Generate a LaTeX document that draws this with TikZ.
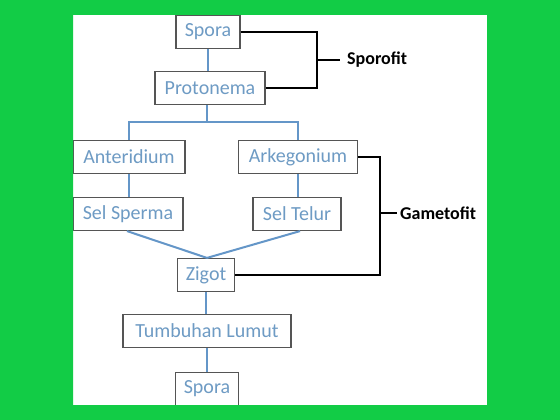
\documentclass[tikz,border=0pt]{standalone}
\usepackage{fontspec}
\setmainfont{Carlito}
\definecolor{bggreen}{RGB}{18,204,70}
\definecolor{txtblue}{RGB}{110,155,196}
\definecolor{lnblue}{RGB}{100,150,200}
\definecolor{boxgray}{RGB}{85,85,85}
\begin{document}
\begin{tikzpicture}[x=1pt,y=-1pt,
  stagebox/.style={draw=boxgray,line width=1.2pt,fill=white,text=txtblue,font=\fontsize{20}{22}\selectfont,minimum height=33pt,inner xsep=2pt,inner ysep=0pt},
  link/.style={draw=lnblue,line width=2pt},
  brace/.style={draw=black,line width=2pt},
  phase/.style={font=\bfseries\fontsize{18}{20}\selectfont,anchor=west,inner sep=0pt}]
\useasboundingbox (0,0) rectangle (560,420);
\fill[white] (73,15) rectangle (487,405);
\coordinate (fork) at (207,122);
\coordinate (forkL) at (129,122);
\coordinate (forkR) at (298,122);
\node[stagebox,minimum width=64pt] (spora1) at (208,32) {Spora};
\node[stagebox,minimum width=110pt] (proto) at (210,88) {Protonema};
\node[stagebox,minimum width=112pt] (anter) at (129,157) {Anteridium};
\node[stagebox,minimum width=119pt] (arke) at (298,157) {Arkegonium};
\node[stagebox,minimum width=110pt] (sperma) at (128,214) {Sel Sperma};
\node[stagebox,minimum width=88pt] (telur) at (297,214) {Sel Telur};
\node[stagebox,minimum width=57pt] (zigot) at (206,275) {Zigot};
\node[stagebox,minimum width=168pt] (lumut) at (207,331) {Tumbuhan Lumut};
\node[stagebox,minimum width=63pt] (spora2) at (207,389) {Spora};
\draw[link] (spora1.south) -- (spora1.south |- proto.north);
\draw[link] (proto.south -| fork) -- (fork);
\draw[link] (anter.north) -- (forkL) -- (forkR) -- (arke.north);
\draw[link] (anter.south) -- (sperma.north -| anter.south);
\draw[link] (arke.south) -- (telur.north -| arke.south);
\draw[link] ([xshift=-1pt]sperma.south) -- ([xshift=1pt]zigot.north);
\draw[link] ([xshift=3pt]telur.south) -- ([xshift=1pt]zigot.north);
\draw[link] (zigot.south) -- (lumut.north -| zigot.south);
\draw[link] (lumut.south) -- (spora2.north);
% sporofit bracket
\coordinate (sbx) at (317,60);
\coordinate (sbt) at (340,60);
\draw[brace] (spora1.east) -| (sbx) |- (proto.east);
\draw[brace] (sbx) -- (sbt);
\node[phase] (sporofit) at (347,60) {Sporofit};
% gametofit bracket
\coordinate (gbx) at (380,213);
\coordinate (gbt) at (397,213);
\draw[brace] (arke.east) -| (gbx) |- (zigot.east);
\draw[brace] (gbx) -- (gbt);
\node[phase] (gameto) at (400,213) {Gametofit};
% green frame
\fill[bggreen,even odd rule] (0,0) rectangle (560,420) (73,15) rectangle (487,405);
\end{tikzpicture}
\end{document}
